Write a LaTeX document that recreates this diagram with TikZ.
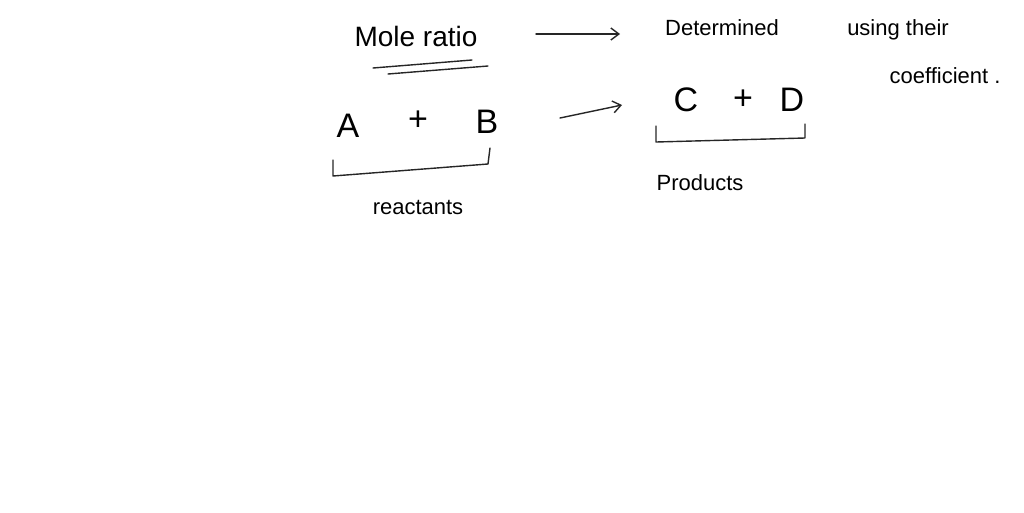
\documentclass[tikz,border=0pt]{standalone}
\usepackage{fontspec}
\setmainfont{Liberation Sans}
\usetikzlibrary{arrows.meta}
\begin{document}
\begin{tikzpicture}[x=1pt,y=-1pt,
  ink/.style={line width=1.4pt,line cap=round,line join=round,black!85},
  arr/.style={ink,-{Straight Barb[length=8pt,width=12pt]}},
  big/.style={font=\fontsize{34}{36}\selectfont},
  mid/.style={font=\fontsize{28}{30}\selectfont},
  sm/.style={font=\fontsize{22}{24}\selectfont}]
\useasboundingbox (0,0) rectangle (1024,512);
\node[mid] (mr) at (416,36) {Mole ratio};
\draw[ink] (373,68) -- (472,60);
\draw[ink] (388,74) -- (488,66);
\node[sm] (det) at (722,28) {Determined};
\node[sm] (use) at (898,30) {using their};
\node[sm] (coef) at (945,76) {coefficient .};
\coordinate (a1) at (536,34); \coordinate (a2) at (620,34);
\draw[arr] (a1) -- (a2);
\node[big] (A) at (348,126) {A};
\node[big] (p1) at (418,121) {+};
\node[big] (B) at (487,122) {B};
\node[sm] (re) at (418,207) {reactants};
\coordinate (r1) at (333,160); \coordinate (r2) at (490,148);
\draw[ink] (r1) -- (333,176) -- (488,164) -- (r2);
\coordinate (b1) at (560,118); \coordinate (b2) at (622,105);
\draw[arr] (b1) -- (b2);
\node[big] (C) at (686,100) {C};
\node[big] (p2) at (743,100) {+};
\node[big] (D) at (792,100) {D};
\coordinate (q1) at (656,126); \coordinate (q2) at (805,124);
\draw[ink] (q1) -- (656,142) -- (805,138) -- (q2);
\node[sm] (pr) at (700,183) {Products};
\end{tikzpicture}
\end{document}
